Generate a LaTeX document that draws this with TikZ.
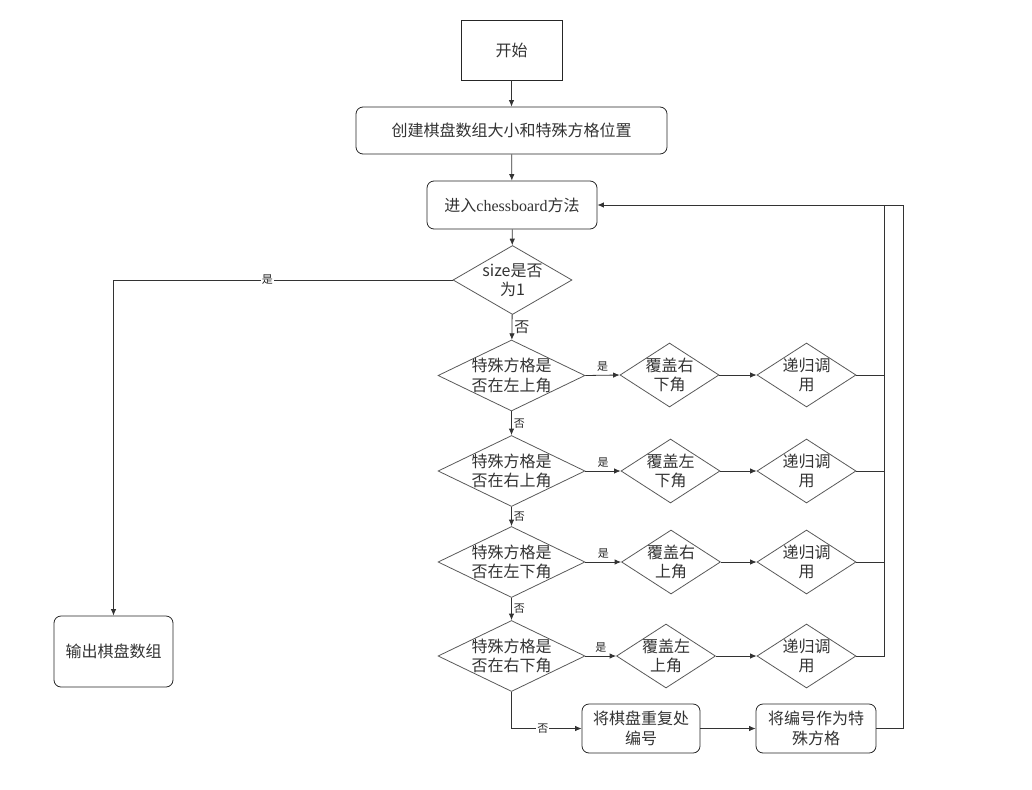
\documentclass[tikz,border=0pt]{standalone}
\usepackage{fontspec}
\setmainfont{Noto Sans CJK SC}
\newfontfamily\serifen{Liberation Serif}
\usetikzlibrary{shapes.geometric,arrows.meta}
\begin{document}
\begin{tikzpicture}[x=1pt,y=-1pt,
  every node/.style={font=\fontsize{16}{20}\selectfont, text=black!80},
  sq/.style={draw=black!85, line width=0.8pt, align=center, inner sep=0pt},
  box/.style={draw=black!85, line width=0.8pt, rounded corners=7pt, align=center, inner sep=0pt},
  dec/.style={diamond, draw=black!65, line width=0.8pt, inner sep=0pt, minimum width=147pt, minimum height=71pt},
  cov/.style={dec, minimum width=99pt, minimum height=64pt},
  lab/.style={align=center, font=\fontsize{16}{19.5}\selectfont, text=black!80},
  small/.style={font=\fontsize{11}{13}\selectfont, text=black!85, inner sep=1pt},
  ln/.style={draw=black!80, line width=0.8pt},
  arr/.style={ln, -{Latex[length=6.5pt,width=5.5pt]}}
]
\useasboundingbox (0,0) rectangle (1032,789);

\node[sq, minimum width=101pt, minimum height=60pt] (start) at (511.5,50) {开始};
\node[box, minimum width=311pt, minimum height=47pt] (create) at (511.5,130.5) {创建棋盘数组大小和特殊方格位置};
\node[box, minimum width=170pt, minimum height=48pt] (enter) at (512,205) {进入{\serifen chessboard}方法};
\node[dec, minimum width=119pt, minimum height=69pt, label={[lab]center:size是否\\为1}] (size) at (512.5,280) {};

\node[dec, label={[lab]center:特殊方格是\\否在左上角}] (d1) at (511.5,375.5) {};
\node[dec, label={[lab]center:特殊方格是\\否在右上角}] (d2) at (511.5,471) {};
\node[dec, label={[lab]center:特殊方格是\\否在左下角}] (d3) at (511.5,562) {};
\node[dec, label={[lab]center:特殊方格是\\否在右下角}] (d4) at (511.5,656) {};

\node[cov, label={[lab]center:覆盖右\\下角}] (c1) at (669.5,375) {};
\node[cov, label={[lab]center:覆盖左\\下角}] (c2) at (670.5,471) {};
\node[cov, label={[lab]center:覆盖右\\上角}] (c3) at (671,562) {};
\node[cov, label={[lab]center:覆盖左\\上角}] (c4) at (666,656) {};

\node[cov, label={[lab]center:递归调\\用}] (r1) at (806.5,375) {};
\node[cov, label={[lab]center:递归调\\用}] (r2) at (806.5,471) {};
\node[cov, label={[lab]center:递归调\\用}] (r3) at (806.5,562) {};
\node[cov, label={[lab]center:递归调\\用}] (r4) at (806.5,656) {};

\node[box, minimum width=118pt, minimum height=49pt] (b1) at (641,728.5) {将棋盘重复处\\编号};
\node[box, minimum width=120pt, minimum height=49pt] (b2) at (816,728.5) {将编号作为特\\殊方格};
\node[box, minimum width=119pt, minimum height=71pt] (out) at (113.5,651.5) {输出棋盘数组};

\coordinate (j1) at (884,205);
\coordinate (j2) at (903,205);

\draw[arr] (start) -- (create);
\draw[arr] (create) -- (enter);
\draw[arr] (enter) -- (size);
\draw[arr] (size.west) -| node[pos=0.273, small, fill=white]{是} (out.north);
\draw[arr] (size) -- node[midway, right, inner sep=2pt, font=\fontsize{15}{17}\selectfont]{否} (d1);
\draw[arr] (d1) -- node[midway, right, small, xshift=1pt]{否} (d2);
\draw[arr] (d2) -- node[midway, right, small, xshift=1pt]{否} (d3);
\draw[arr] (d3) -- node[midway, right, small, xshift=1pt]{否} (d4);

\foreach \i in {1,2,3,4}{
  \draw[arr] (d\i.east) -- node[midway, above, small, yshift=2pt]{是} (c\i.west);
  \draw[arr] (c\i.east) -- (r\i.west);
  \draw[ln] (r\i.east) -| (j1);
}
\draw[arr] (d4.south) |- node[pos=0.723, small, fill=white]{否} (b1.west);
\draw[arr] (b1) -- (b2);
\draw[ln] (b2.east) -| (j2);
\draw[arr] (j2) -- (enter.east);
\end{tikzpicture}
\end{document}
